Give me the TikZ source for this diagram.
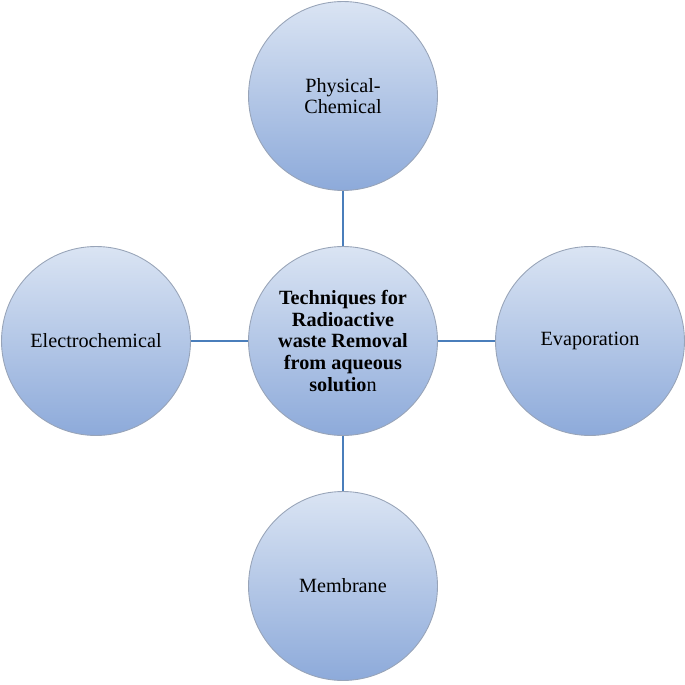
\documentclass[tikz,border=0pt]{standalone}
\usepackage{fontspec}
\setmainfont{Liberation Serif}
\usepackage{tikz}
\usetikzlibrary{positioning}
\usepackage{xcolor}
\definecolor{bubtop}{HTML}{DAE4F3}
\definecolor{bubbot}{HTML}{8DAADA}
\definecolor{bubedge}{HTML}{98A4B8}
\definecolor{linkblue}{HTML}{4A7EBB}

\tikzset{
  bubble/.style={circle, draw=bubedge, line width=0.5pt, top color=bubtop, bottom color=bubbot,
    minimum size=3.78cm, inner sep=2pt, align=center, font=\fontsize{11.5}{12.3}\selectfont},
  link/.style={draw=linkblue, line width=1.1pt}
}

\begin{document}
\begin{tikzpicture}[x=0.02cm, y=-0.02cm]
  \useasboundingbox (0,0) rectangle (685,685);
  % centre and the four techniques
  \node[bubble] (core) at (343,341) {\textbf{Techniques for}\\ \textbf{Radioactive}\\ \textbf{waste Removal}\\ \textbf{from aqueous}\\ \textbf{solutio}n};
  \node[bubble] (phys) at (343,96) {Physical-\\Chemical};
  \node[bubble] (evap) at (590,341) {Evaporation};
  \node[bubble] (memb) at (343,586) {Membrane};
  \node[bubble] (elec) at (96,341) {Electrochemical};
  % links
  \draw[link] (core) -- (phys);
  \draw[link] (core) -- (evap);
  \draw[link] (core) -- (memb);
  \draw[link] (core) -- (elec);
\end{tikzpicture}
\end{document}
